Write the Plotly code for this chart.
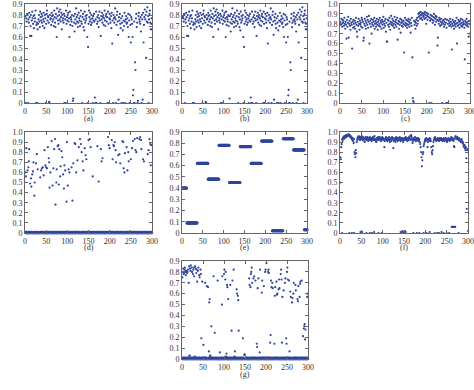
import numpy as np
import plotly.graph_objects as go

# ---------------- data (values in hundredths) ----------------
x_ticks = [0, 50, 100, 150, 200, 250, 300]
y_ticks_09 = [0, 0.1, 0.2, 0.3, 0.4, 0.5, 0.6, 0.7, 0.8, 0.9]
y_text_09 = ["0", "0.1", "0.2", "0.3", "0.4", "0.5", "0.6", "0.7", "0.8", "0.9"]
y_ticks_10 = [0, 0.1, 0.2, 0.3, 0.4, 0.5, 0.6, 0.7, 0.8, 0.9, 1.0]
y_text_10 = ["0", "0.1", "0.2", "0.3", "0.4", "0.5", "0.6", "0.7", "0.8", "0.9", "1.0"]
panel_labels = ["(a)", "(b)", "(c)", "(d)", "(e)", "(f)", "(g)"]

a_vals = """
79 0 77 74 81 80 0 76 73 82
78 61 70 80 61 75 83 77 72 79
68 80 74 77 84 0 71 73 0 67
72 76 80 74 69 83 78 75 81 73
79 70 76 82 74 68 80 77 0 72
81 84 75 79 78 73 1 0 80 76
77 71 82 79 74 80 76 70 84 78
73 69 81 77 60 86 79 75 72 83
80 76 85 74 78 82 67 80 75 77
73 81 0 79 76 0 84 72 78 75
80 82 74 77 60 83 71 78 76 74
80 70 2 4 79 73 65 81 76 72
86 78 74 80 69 73 82 77 75 70
79 84 74 72 0 78 81 69 76 66
83 73 79 75 77 80 60 0 51 72
84 78 74 82 76 71 80 73 77 0
79 75 81 74 5 0 76 83 0 72
78 74 80 69 77 83 75 0 61 79
76 82 73 78 80 71 77 84 75 70
79 81 74 78 0 83 72 0 77 81
76 73 79 68 82 54 75 0 80 77
73 78 86 76 0 71 80 83 74 62
3 78 75 81 72 68 77 0 73 79
66 0 75 70 82 74 0 76 79 72
73 77 69 81 60 75 0 80 71 55
78 76 72 60 7 12 0 74 0 37
30 77 81 69 73 0 2 79 82 76
74 72 78 65 0 80 76 3 82 55
71 78 85 76 80 41 83 74 87 73
79 0 76 81 84 73 67 72 77 67
"""

# (b) is nearly identical to (a); differences at a few indices (x: value)
b_changes_x = [2, 113, 267]
b_changes_y = [78, 79, 75]

c_vals = """
82 79 85 80 77 84 81 83 78 86
80 75 82 79 65 84 77 81 87 66
80 83 78 74 85 81 79 55 82 76
84 80 77 83 75 81 86 79 72 67
82 78 85 80 74 83 79 81 77 86
84 76 82 63 66 80 85 78 83 75
81 87 79 84 76 82 88 60 80 83
77 85 70 81 79 84 78 82 86 75
80 83 77 81 85 79 74 82 84 78
80 86 77 83 81 75 84 79 82 87
76 80 83 78 85 72 81 62 62 84
79 83 77 86 80 74 82 88 79 81
85 78 83 80 76 87 82 79 84 77
81 86 64 80 83 75 82 79 85 71
81 84 78 82 77 80 83 51 79 86
81 78 84 80 76 83 79 85 82 77
80 84 71 81 78 86 46 5 2 1
83 79 82 75 81 84 78 86 80 83
90 87 91 88 85 92 89 86 90 84
91 88 87 90 85 92 89 86 80 91
88 84 90 87 51 0 86 83 89 85
0 88 84 81 87 83 90 86 79 85
88 82 87 84 58 66 83 80 86 84
78 82 85 79 81 0 83 80 84 77
82 79 85 81 0 76 84 0 80 0
83 78 81 85 79 82 77 54 80 84
78 82 75 81 79 83 77 80 86 60
81 78 84 79 82 76 83 80 85 78
81 77 84 79 82 80 76 44 83 79
81 85 78 82 80 77 67 83 80 70
"""

d_band = """
0100100010 0010010000 1000100100 0010001001 0100100010 0001001000
1001000100 0100010010 0010100001 0100010100 1000100010 0010010001
0101000100 0010001010 1000100100 0100010001 0010100010 0100010100
1001000010 0010010001 0100100100 0010001010 1000100100 0100010001
0010100010 0100010100 1001000010 0010010001 0100100100 0010001010
"""
d_x = [1, 2, 3, 10, 6, 8, 9, 12, 15, 14, 17, 19, 20, 22, 23, 26, 28, 30, 36, 38,
       40, 42, 44, 46, 48, 50, 52, 54, 56, 57, 58, 60, 63, 65, 67, 69, 71, 72, 74, 75,
       77, 79, 81, 80, 83, 84, 86, 88, 90, 92, 93, 95, 99, 98, 101, 103, 105, 110, 112, 114,
       117, 119, 121, 124, 127, 130, 132, 134, 136, 138, 141, 143, 145, 150, 153, 155, 160, 171, 174, 179,
       181, 183, 196, 198, 200, 205, 207, 209, 210, 212, 214, 215, 220, 223, 225, 230, 232, 233, 235, 236,
       240, 242, 244, 245, 250, 253, 255, 259, 261, 263, 265, 270, 272, 274, 275, 279, 281, 290, 292, 294,
       296, 297, 298]
d_y = [60, 56, 84, 83, 62, 65, 71, 49, 46, 54, 58, 61, 70, 37, 50, 69, 78, 63, 55, 62,
       64, 65, 57, 82, 67, 65, 64, 85, 74, 70, 45, 60, 91, 47, 64, 83, 93, 28, 50, 63,
       86, 87, 83, 48, 56, 66, 81, 75, 58, 44, 67, 62, 90, 31, 47, 63, 60, 65, 32, 69,
       89, 88, 60, 72, 85, 93, 88, 80, 71, 62, 84, 77, 73, 92, 93, 85, 56, 86, 51, 83,
       71, 74, 95, 87, 84, 92, 73, 87, 86, 90, 82, 70, 77, 78, 69, 91, 90, 64, 60, 79,
       85, 62, 80, 71, 73, 84, 91, 93, 82, 80, 94, 93, 95, 92, 83, 73, 71, 78, 82, 93,
       88, 67, 87]

# (e): piecewise constant levels and run lengths
e_levels = [40, 9, 62, 48, 78, 45, 77, 62, 82, 2, 84, 74, 3]
e_lengths = [11, 25, 26, 26, 25, 26, 26, 25, 26, 26, 25, 26, 7]

f_vals = """
75 73 85 88 93 91 94 95 93 96
94 95 96 97 95 96 97 96 97 98
97 96 97 95 96 94 95 93 92 94
91 89 93 80 78 75 82 79 90 92
94 95 93 96 95 94 92 95 93 94
96 93 92 95 94 93 91 90 94 95
93 92 94 95 93 91 94 92 93 95
94 92 93 91 94 93 95 92 94 93
96 92 93 91 90 94 92 93 95 94
92 93 95 94 93 91 92 94 95 93
94 92 93 85 91 93 94 95 92 93
91 94 92 93 95 92 90 93 94 91
92 95 93 94 84 91 92 93 94 90
92 95 93 94 91 93 92 94 93 95
92 91 94 93 92 94 93 90 92 93
94 92 93 95 94 92 93 91 94 93
92 95 94 96 93 92 97 95 93 89
91 93 94 92 93 95 92 91 93 94
92 93 94 91 92 93 90 88 85 80
75 66 72 78 80 86 88 90 92 93
91 94 92 93 85 90 92 93 91 94
92 93 91 85 80 78 82 86 90 92
94 93 95 92 93 91 92 93 94 92
93 91 92 94 93 92 94 93 92 91
93 92 94 93 91 92 93 94 92 91
90 93 92 94 93 92 91 93 92 94
95 93 92 94 93 91 86 85 93 95
96 95 94 93 95 94 93 92 94 93
92 91 90 92 93 91 89 90 88 86
85 87 84 82 85 74 24 83 82 2
"""
f_x = [1, 5, 22, 28, 33, 48, 50, 52, 62, 70, 75, 80, 90, 98, 142, 144, 146, 148, 150, 152,
       154, 172, 180, 186, 196, 203, 210, 222, 228, 232, 238, 243, 250, 256, 262, 264, 266, 268, 270, 278]
f_y = [50, 0, 0, 0, 0, 1, 0, 1, 0, 0, 0, 1, 0, 0, 1, 0, 2, 1, 0, 2,
       1, 0, 0, 0, 0, 0, 1, 0, 0, 0, 1, 0, 0, 0, 6, 6, 6, 6, 6, 0]

g_band = """
0100100010 0010001300 0100100002 0010010001 0100010010 0010100100
0001003010 0100100010 0010001000 0100100100 0010200100 0100100010
0010200010 0100010001 0010010040 0100100100 0010010010 0100100010
0010001001 0100100100 0010010010 0100010001 0010100100 0100010010
0010010001 0100100100 0010001010 0100100010 0010010100 0100100010
"""
g_x = [1, 2, 3, 4, 6, 7, 8, 9, 10, 12, 14, 16, 17, 19, 21, 23, 24, 26, 27, 29,
       31, 33, 34, 36, 38, 39, 41, 42, 44, 45, 13, 20, 28, 35, 5,
       46, 48, 51, 55, 59, 62, 65, 66, 64, 70, 75, 78, 85, 90, 95, 96, 100, 101, 103, 104,
       106, 107, 108, 110, 115, 118, 120, 123, 126, 130, 131, 133, 134, 135, 145, 160, 161, 163, 164, 165,
       166, 167, 170, 172, 175, 178, 179, 180, 182, 185, 186, 190, 191, 195, 198, 199, 201, 205, 206, 207,
       210, 211, 212, 213, 215, 216, 220, 221, 222, 225, 226, 227, 230, 231, 232, 235, 236, 237, 238, 239,
       242, 245, 246, 248, 249, 250, 251, 252, 255, 256, 258, 259, 262, 263, 265, 266, 270, 271, 275, 276,
       277, 280, 281, 282, 285, 288, 290, 291, 292, 293, 294, 298, 299]
g_y = [75, 80, 83, 78, 82, 84, 80, 77, 81, 79, 82, 70, 85, 83, 86, 84, 80, 78, 82, 76,
       85, 83, 79, 71, 81, 84, 77, 75, 82, 78, 80, 81, 84, 82, 79,
       19, 71, 13, 70, 67, 66, 52, 55, 7, 30, 76, 24, 72, 6, 50, 76, 78, 82, 73, 80,
       5, 68, 66, 55, 68, 26, 72, 82, 7, 64, 60, 58, 54, 26, 19, 74, 68, 66, 78, 80,
       84, 70, 74, 76, 72, 14, 11, 65, 74, 6, 82, 61, 72, 67, 80, 82, 88, 80, 82, 79,
       15, 22, 72, 66, 70, 65, 14, 58, 66, 71, 59, 60, 64, 73, 65, 78, 82, 73, 15, 57,
       63, 70, 74, 19, 14, 80, 84, 73, 72, 7, 62, 57, 52, 56, 60, 70, 68, 63, 55, 53,
       67, 57, 69, 71, 72, 21, 28, 30, 32, 18, 27, 57, 60]


def parse_vals(s):
    return [int(t) / 100 for t in s.split()]


def parse_band(s):
    return [int(ch) / 100 for ch in s.replace(" ", "").replace("\n", "")]


def idx(v):
    return list(range(1, len(v) + 1))


a_y = parse_vals(a_vals)
b_y = list(a_y)
for xx, yy in zip(b_changes_x, b_changes_y):
    b_y[xx - 1] = yy / 100
c_y = parse_vals(c_vals)
d_b = parse_band(d_band)
e_y = list(np.repeat(np.array(e_levels) / 100, e_lengths))
f_t = parse_vals(f_vals)
g_b = parse_band(g_band)

COLOR = "#30449a"

panels = [
    dict(x0=25, x1=152, yt=4, yb=103, ymax=0.9, lab_y=118,
         series=[(idx(a_y), a_y, 2.2)]),
    dict(x0=182, x1=307, yt=4, yb=103, ymax=0.9, lab_y=118,
         series=[(idx(b_y), b_y, 2.2)]),
    dict(x0=340, x1=470, yt=4, yb=103, ymax=1.0, lab_y=118,
         series=[(idx(c_y), c_y, 2.2)]),
    dict(x0=25, x1=152, yt=132, yb=233, ymax=1.0, lab_y=248,
         series=[(idx(d_b), d_b, 2.6), (d_x, [v / 100 for v in d_y], 2.2)]),
    dict(x0=182, x1=307, yt=132, yb=233, ymax=0.9, lab_y=248,
         series=[(idx(e_y), e_y, 3.2)]),
    dict(x0=340, x1=468, yt=132, yb=233, ymax=1.0, lab_y=248,
         series=[(idx(f_t), f_t, 2.2), (f_x, [v / 100 for v in f_y], 2.2)]),
    dict(x0=182, x1=308, yt=261, yb=359, ymax=0.9, lab_y=374,
         series=[(idx(g_b), g_b, 2.6), (g_x, [v / 100 for v in g_y], 2.2)]),
]

W, H = 474, 390
FONT = "Liberation Serif"
fig = go.Figure()
annotations = []
for i, p in enumerate(panels, start=1):
    sfx = "" if i == 1 else str(i)
    for xs, ys, sz in p["series"]:
        fig.add_trace(go.Scatter(
            x=xs, y=ys, mode="markers", xaxis="x" + sfx, yaxis="y" + sfx,
            marker=dict(size=sz, color=COLOR, line=dict(width=0)),
            cliponaxis=False, showlegend=False, hoverinfo="skip"))
    if p["ymax"] == 1.0:
        yv, yt = y_ticks_10, y_text_10
    else:
        yv, yt = y_ticks_09, y_text_09
    axis_common = dict(showline=True, linecolor="#666", linewidth=1, mirror="ticks",
                       ticks="inside", ticklen=3, tickcolor="#666", showgrid=False,
                       zeroline=False, automargin=False, ticklabeloverflow="allow",
                       tickfont=dict(family=FONT, size=8, color="#333"))
    fig.update_layout(**{
        "xaxis" + sfx: dict(domain=[p["x0"] / W, p["x1"] / W], anchor="y" + sfx,
                            range=[0, 300], tickvals=x_ticks, **axis_common),
        "yaxis" + sfx: dict(domain=[1 - p["yb"] / H, 1 - p["yt"] / H], anchor="x" + sfx,
                            range=[0, p["ymax"]], tickvals=yv, ticktext=yt, **axis_common),
    })
    annotations.append(dict(text=panel_labels[i - 1], x=(p["x0"] + p["x1"]) / 2 / W,
                            y=1 - p["lab_y"] / H, xref="paper", yref="paper",
                            showarrow=False, font=dict(family=FONT, size=8, color="#333"),
                            xanchor="center", yanchor="middle"))

fig.update_layout(width=W, height=H, margin=dict(l=0, r=0, t=0, b=0),
                  paper_bgcolor="white", plot_bgcolor="white",
                  annotations=annotations, font=dict(family=FONT))

fig.write_html("out.html", config={"displayModeBar": False},
               post_script="document.body.style.margin='0';document.body.style.padding='0';")
